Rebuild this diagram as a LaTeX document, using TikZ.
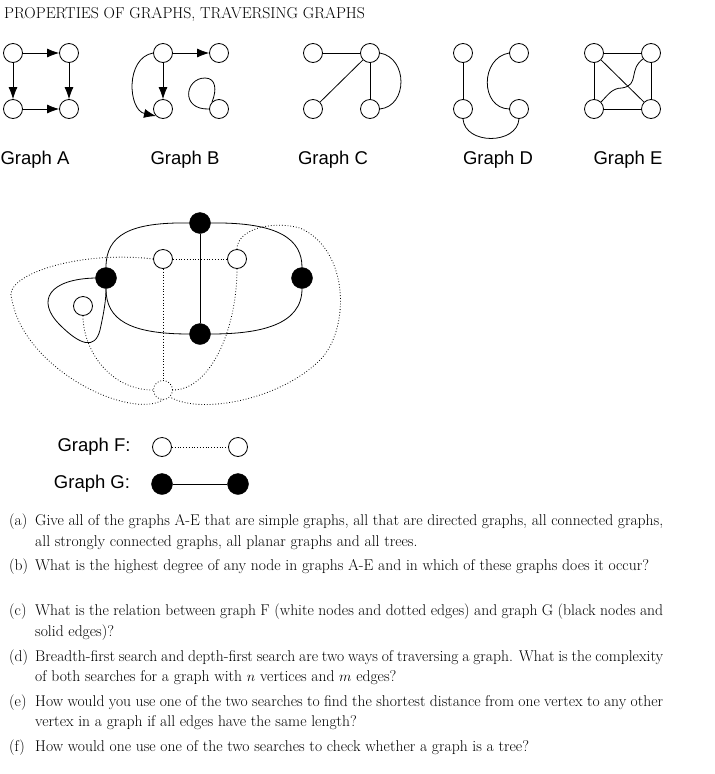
\documentclass[tikz,border=0pt]{standalone}
\usepackage{fontspec}
\newfontfamily\lsans{Liberation Sans}
\usetikzlibrary{arrows.meta}
\begin{document}
\begin{tikzpicture}[x=1pt,y=-1pt,
  v/.style={circle,draw,thick,minimum size=19pt,inner sep=0pt,fill=white},
  bv/.style={circle,draw,fill=black,minimum size=21pt,inner sep=0pt},
  e/.style={thick},
  ar/.style={thick,-{Latex[length=12pt,width=9pt]}},
  de/.style={thick,dotted},
  glab/.style={font=\lsans\fontsize{18.5}{20}\selectfont},
  qt/.style={anchor=north west,text width=628pt,align=justify,inner sep=0pt,font=\fontsize{15.6}{20.8}\selectfont},
  ql/.style={anchor=north west,inner sep=0pt,font=\fontsize{15.6}{20.8}\selectfont}]
\useasboundingbox (0,0) rectangle (715,774);
\node[anchor=west,inner sep=0pt,font=\fontsize{15.8}{17}\selectfont] (title) at (4,14) {PROPERTIES OF GRAPHS, TRAVERSING GRAPHS};
% Graph A
\node[v] (a1) at (13,53) {}; \node[v] (a2) at (69,53) {};
\node[v] (a3) at (13,109) {}; \node[v] (a4) at (69,109) {};
\draw[ar] (a1)--(a2); \draw[ar] (a1)--(a3); \draw[ar] (a2)--(a4); \draw[ar] (a3)--(a4);
% Graph B
\node[v] (b1) at (163,53) {}; \node[v] (b2) at (219,53) {};
\node[v] (b3) at (163,109) {}; \node[v] (b4) at (219,109) {};
\draw[ar] (b1)--(b2); \draw[ar] (b1)--(b3);
\draw[ar] (b1.west) .. controls (125,58) and (128,110) .. (b3.south west);
\draw[e] (b4.west) .. controls (180,110) and (185,78) .. (205,78) .. controls (216,78) and (217,90) .. (b4.north west);
% Graph C
\node[v] (c1) at (313,53) {}; \node[v] (c2) at (370,53) {};
\node[v] (c3) at (313,109) {}; \node[v] (c4) at (370,109) {};
\draw[e] (c1)--(c2); \draw[e] (c3)--(c2); \draw[e] (c2)--(c4);
\draw[e] (c2.east) .. controls (408,58) and (408,106) .. (c4.east);
% Graph D
\node[v] (d1) at (463,53) {}; \node[v] (d2) at (519,53) {};
\node[v] (d3) at (463,109) {}; \node[v] (d4) at (519,109) {};
\draw[e] (d1)--(d3);
\draw[e] (d2.west) .. controls (480,58) and (480,108) .. (d4.west);
\draw[e] (d3.south) .. controls (465,145) and (517,145) .. (d4.south);
% Graph E
\node[v] (e1) at (594,53) {}; \node[v] (e2) at (651,53) {};
\node[v] (e3) at (594,109) {}; \node[v] (e4) at (651,109) {};
\draw[e] (e1)--(e2)--(e4)--(e3)--(e1); \draw[e] (e1)--(e4);
\draw[e] (e3) .. controls (608,95) and (612,88) .. (622,88) .. controls (640,85) and (628,70) .. (e2);
\node[glab] (la) at (35,160) {Graph A};
\node[glab] (lb) at (185,160) {Graph B};
\node[glab] (lc) at (333,160) {Graph C};
\node[glab] (ld) at (498,160) {Graph D};
\node[glab] (le) at (628,160) {Graph E};
% Graph F/G
\node[bv] (gt) at (200,223) {}; \node[bv] (gl) at (106,278) {};
\node[bv] (gr) at (302,278) {}; \node[bv] (gb) at (200,334) {};
\node[v] (f1) at (163,259) {}; \node[v] (f2) at (237,259) {};
\node[v] (f3) at (83,306) {}; \node[v,dotted] (f4) at (163,390) {};
\draw[e] (gt)--(gb);
\draw[e] (gl.north) .. controls (106,235) and (130,222) .. (gt.west);
\draw[e] (gt.east) .. controls (280,222) and (302,240) .. (gr.north);
\draw[e] (gr.south) .. controls (302,325) and (260,334) .. (gb.east);
\draw[e] (gb.west) .. controls (130,334) and (106,320) .. (gl.south);
\draw[e] (gl.west) .. controls (50,279) and (35,300) .. (60,325) .. controls (80,345) and (95,350) .. (100,330) .. controls (104,312) and (106,300) .. (gl.south);
\draw[de] (f1)--(f2); \draw[de] (f1)--(f4);
\draw[de] (f3) .. controls (83,350) and (110,390) .. (f4.west);
\draw[de] (f2.south) .. controls (237,330) and (210,390) .. (f4.east);
\draw[de] (f1.west) .. controls (80,250) and (0,275) .. (12,300) .. controls (25,370) and (130,420) .. (f4.south);
\draw[de] (f2.north) .. controls (237,230) and (270,220) .. (300,228) .. controls (350,250) and (350,330) .. (320,360) .. controls (280,400) and (200,415) .. (f4.south east);
% Legend
\node[glab] (lf) at (94,447) {Graph F:};
\node[v] (lf1) at (162,447) {}; \node[v] (lf2) at (238,447) {};
\draw[de] (lf1)--(lf2);
\node[glab] (lg) at (92,484) {Graph G:};
\node[bv] (lg1) at (162,484) {}; \node[bv] (lg2) at (238,484) {};
\draw[e] (lg1)--(lg2);
% Questions
\node[ql] (qa) at (9,514) {(a)}; \node[qt] (ta) at (35,514) {Give all of the graphs A-E that are simple graphs, all that are directed graphs, all connected graphs, all strongly connected graphs, all planar graphs and all trees.};
\node[ql] (qb) at (9,559) {(b)}; \node[qt] (tb) at (35,559) {What is the highest degree of any node in graphs A-E and in which of these graphs does it occur?};
\node[ql] (qc) at (9,604) {(c)}; \node[qt] (tc) at (35,604) {What is the relation between graph F (white nodes and dotted edges) and graph G (black nodes and solid edges)?};
\node[ql] (qd) at (9,650) {(d)}; \node[qt] (td) at (35,650) {Breadth-first search and depth-first search are two ways of traversing a graph. What is the complexity of both searches for a graph with $n$ vertices and $m$ edges?};
\node[ql] (qe) at (9,695) {(e)}; \node[qt] (te) at (35,695) {How would you use one of the two searches to find the shortest distance from one vertex to any other vertex in a graph if all edges have the same length?};
\node[ql] (qf) at (9,740) {(f)}; \node[qt] (tf) at (35,740) {How would one use one of the two searches to check whether a graph is a tree?};
\end{tikzpicture}
\end{document}
